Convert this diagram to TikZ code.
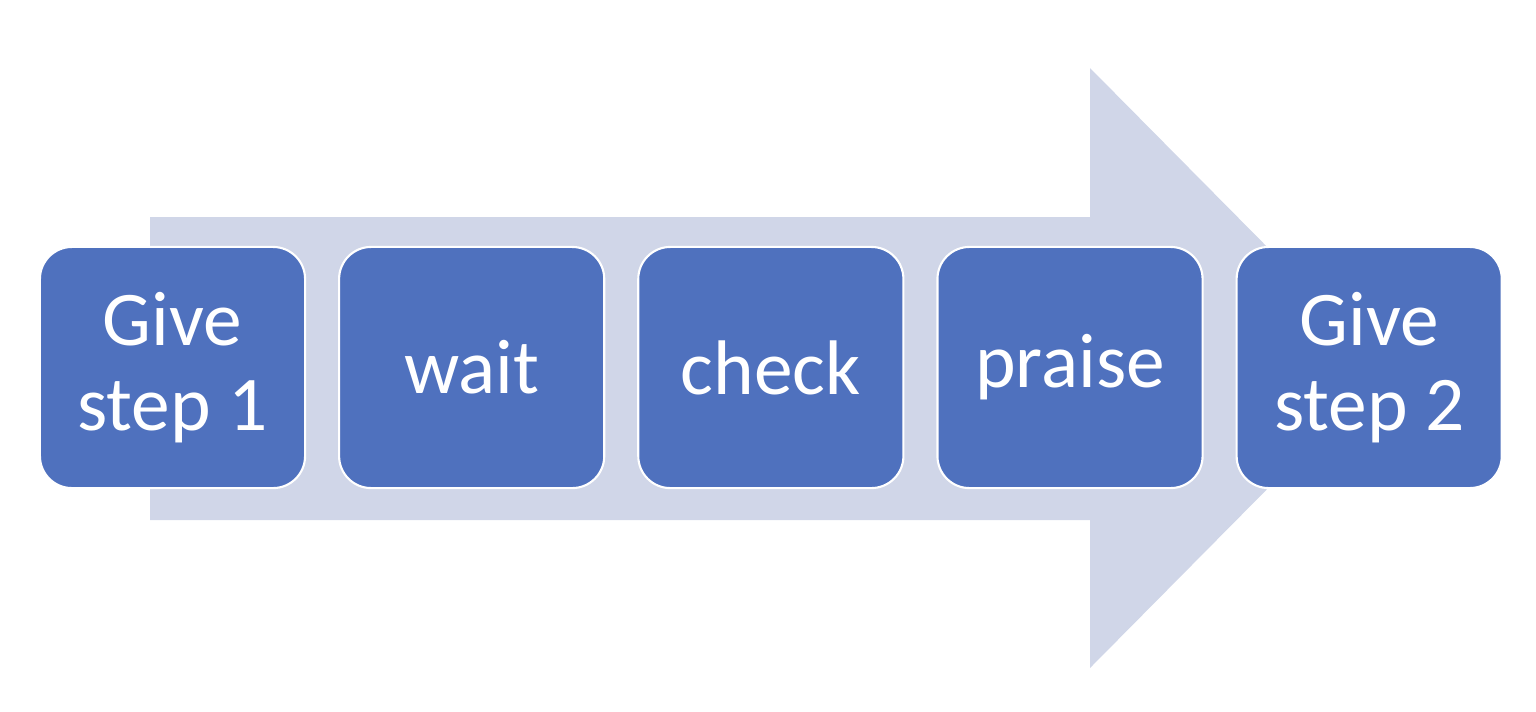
\documentclass[tikz,border=0pt]{standalone}
\usepackage{fontspec}
\setmainfont{Carlito}
\usepackage{tikz}
\usetikzlibrary{positioning}
\definecolor{boxblue}{RGB}{79,113,190}
\definecolor{arrowgrey}{RGB}{208,214,232}

\begin{document}
\begin{tikzpicture}[x=0.01cm,y=-0.01cm,
	stepbox/.style={rectangle,rounded corners=0.32cm,fill=boxblue,draw=white,line width=0.6pt,minimum width=2.65cm,minimum height=2.41cm,inner sep=0pt,outer sep=0pt,align=center,text=white,font=\fontsize{22}{24}\selectfont}]
	
	\useasboundingbox (0,0) rectangle (1536,711);
	
	%big arrow behind
	\fill[arrowgrey] (150,217) -- (1090,217) -- (1090,68) -- (1387,368) -- (1090,668) -- (1090,520) -- (150,520) -- cycle;
	
	%steps
	\node[stepbox] (give1) at (172.5,367.5) {Give\\step 1};
	\node[stepbox] (wait) [right=0.34cm of give1] {wait};
	\node[stepbox] (check) [right=0.34cm of wait] {check};
	\node[stepbox] (praise) [right=0.34cm of check] {praise};
	\node[stepbox] (give2) [right=0.34cm of praise] {Give\\step 2};
	
\end{tikzpicture}
\end{document}
